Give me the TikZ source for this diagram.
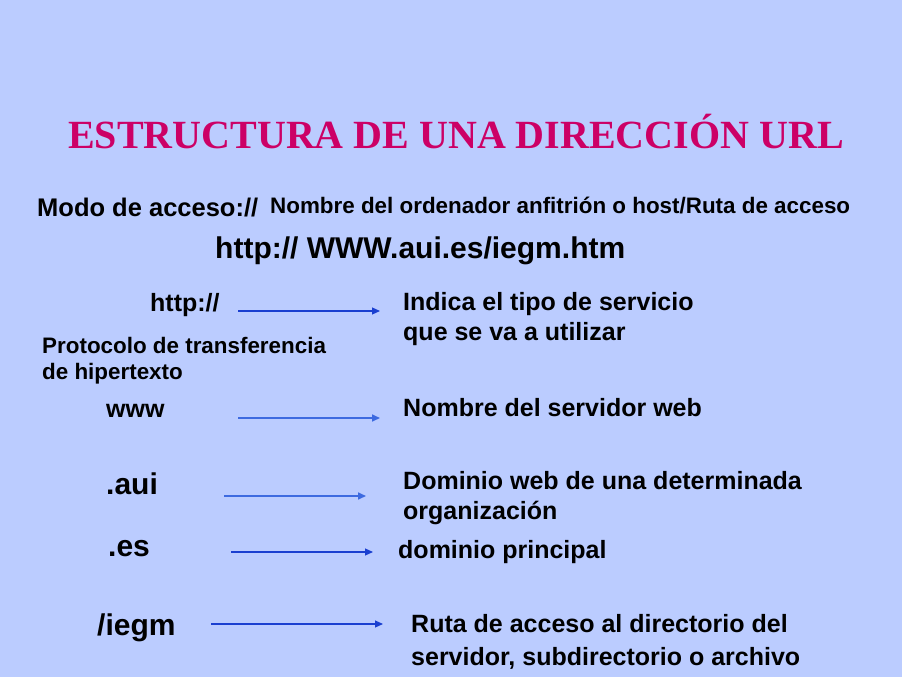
\documentclass[tikz,border=0pt]{standalone}
\usepackage{fontspec}
\setmainfont{Liberation Sans}
\newfontfamily\titlefont{Liberation Serif}
\usetikzlibrary{arrows.meta}
\definecolor{slidebg}{HTML}{BBCCFF}
\definecolor{titlered}{HTML}{CC0066}
\definecolor{arrowblue}{HTML}{1A3FD0}
\definecolor{arrowlight}{HTML}{3D6AE0}
\tikzstyle{term} = [anchor=base west, inner sep=0pt, font=\bfseries\fontsize{25}{30}\selectfont]
\tikzstyle{bigterm} = [term, font=\bfseries\fontsize{30}{34}\selectfont]
\tikzstyle{note} = [term, align=left]
\tikzstyle{smallnote} = [term, align=left, font=\bfseries\fontsize{22.4}{26}\selectfont]
\tikzstyle{arrow} = [line width=1.1pt, arrowblue, -{Triangle[length=8pt,width=7pt]}]
\begin{document}
\begin{tikzpicture}[x=1pt, y=-1pt]

\fill [slidebg] (0,0) rectangle (902,677);
\useasboundingbox (0,0) rectangle (902,677);

\node (title) [anchor=base west, inner sep=0pt, text=titlered, font=\titlefont\bfseries\fontsize{40}{44}\selectfont] at (68,148) {ESTRUCTURA DE UNA DIRECCIÓN URL};

\node (modo) [term, font=\bfseries\fontsize{25.5}{30}\selectfont] at (37,216) {Modo de acceso://};
\node (host) [term, font=\bfseries\fontsize{22.4}{26}\selectfont] at (270,213) {Nombre del ordenador anfitrión o host/Ruta de acceso};
\node (url) [bigterm] at (215,258) {http:// WWW.aui.es/iegm.htm};

% lado izquierdo
\node (http) [term] at (150,311) {http://};
\node (proto) [smallnote] at (42,379) {Protocolo de transferencia\\de hipertexto};
\node (www) [term] at (106,417) {www};
\node (aui) [bigterm] at (106,494) {.aui};
\node (es) [bigterm] at (108,556) {.es};
\node (iegm) [bigterm] at (97,635) {/iegm};

% lado derecho (base = ultima linea)
\node (servicio) [note] at (403,340) {Indica el tipo de servicio\\que se va a utilizar};
\node (servidor) [term] at (403,416) {Nombre del servidor web};
\node (dominio) [note] at (403,519) {Dominio web de una determinada\\organización};
\node (principal) [term] at (398,558) {dominio principal};
\node (ruta) [note] at (411,665) {Ruta de acceso al directorio del\\[3pt]servidor, subdirectorio o archivo};

\coordinate (http-a) at (238,311);
\coordinate (http-b) at (380,311);
\coordinate (www-a) at (238,418);
\coordinate (www-b) at (380,418);
\coordinate (aui-a) at (224,496);
\coordinate (aui-b) at (366,496);
\coordinate (es-a) at (231,552);
\coordinate (es-b) at (373,552);
\coordinate (iegm-a) at (211,624);
\coordinate (iegm-b) at (383,624);

\draw [arrow] (http-a) -- (http-b);
\draw [arrow, arrowlight, line width=1.6pt] (www-a) -- (www-b);
\draw [arrow, arrowlight, line width=1.6pt] (aui-a) -- (aui-b);
\draw [arrow] (es-a) -- (es-b);
\draw [arrow] (iegm-a) -- (iegm-b);
\end{tikzpicture}
\end{document}
